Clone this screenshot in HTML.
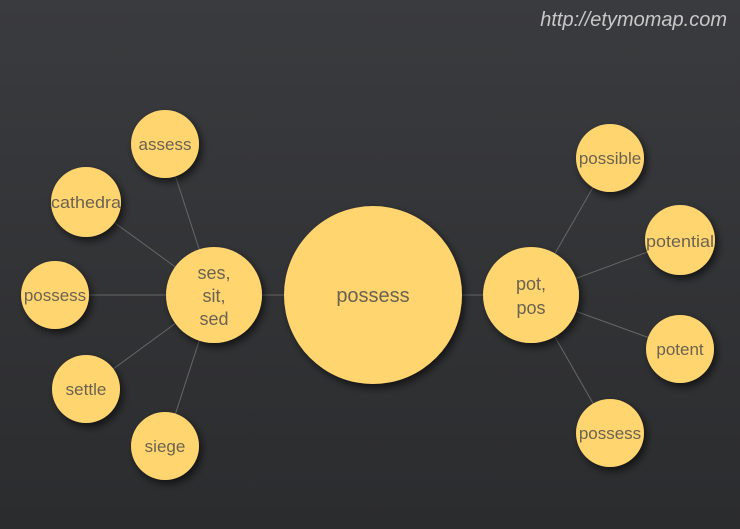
<!DOCTYPE html>
<html><head><style>
html,body{margin:0;padding:0}
body{width:740px;height:529px;overflow:hidden;background:linear-gradient(180deg,#3a3b3e,#2b2c2e);font-family:"Liberation Sans",sans-serif}
svg{display:block}
</style></head><body>
<svg width="740" height="529" xmlns="http://www.w3.org/2000/svg">
<defs><filter id="s" x="-50%" y="-50%" width="200%" height="200%"><feDropShadow dx="3" dy="4" stdDeviation="4" flood-color="#000" flood-opacity="0.6"/></filter></defs>
<g stroke="#666" stroke-width="1">
<line x1="214" y1="295" x2="373" y2="295"/><line x1="373" y1="295" x2="531" y2="295"/>
<line x1="214" y1="295" x2="165" y2="144"/><line x1="214" y1="295" x2="86" y2="202"/>
<line x1="214" y1="295" x2="55" y2="295"/><line x1="214" y1="295" x2="86" y2="389"/>
<line x1="214" y1="295" x2="165" y2="446"/>
<line x1="531" y1="295" x2="610" y2="158"/><line x1="531" y1="295" x2="680" y2="240"/>
<line x1="531" y1="295" x2="680" y2="349"/><line x1="531" y1="295" x2="610" y2="433"/>
</g>
<g fill="#ffd56f" filter="url(#s)">
<circle cx="373" cy="295" r="89"/><circle cx="214" cy="295" r="48"/><circle cx="531" cy="295" r="48"/>
<circle cx="165" cy="144" r="34"/><circle cx="86" cy="202" r="35"/><circle cx="55" cy="295" r="34"/>
<circle cx="86" cy="389" r="34"/><circle cx="165" cy="446" r="34"/>
<circle cx="610" cy="158" r="34"/><circle cx="680" cy="240" r="35"/><circle cx="680" cy="349" r="34"/><circle cx="610" cy="433" r="34"/>
</g>
<g fill="#6b6350" font-size="17" text-anchor="middle">
<text x="373" y="302" font-size="20">possess</text>
<text x="214" y="279" font-size="18">ses,</text><text x="214" y="302" font-size="18">sit,</text><text x="214" y="325" font-size="18">sed</text>
<text x="531" y="290" font-size="18">pot,</text><text x="531" y="314" font-size="18">pos</text>
<text x="165" y="150">assess</text><text x="86" y="208" textLength="70" lengthAdjust="spacingAndGlyphs">cathedra</text><text x="55" y="301">possess</text>
<text x="86" y="395">settle</text><text x="165" y="452">siege</text>
<text x="610" y="164">possible</text><text x="680" y="247" textLength="68" lengthAdjust="spacingAndGlyphs">potential</text><text x="680" y="355">potent</text><text x="610" y="439">possess</text>
</g>
<text x="727" y="26" text-anchor="end" fill="#c8c8c8" font-size="20" font-style="italic">http://etymomap.com</text>
</svg>
</body></html>
